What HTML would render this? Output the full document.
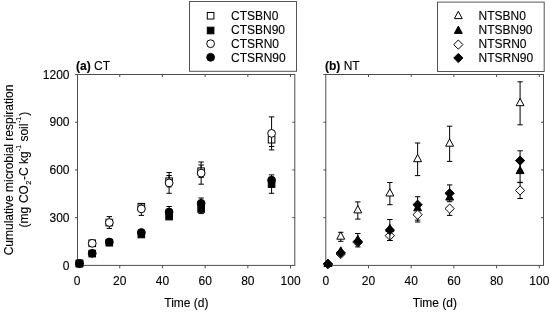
<!DOCTYPE html>
<html lang="en">
<head>
<meta charset="utf-8">
<title>Cumulative microbial respiration</title>
<style>
html,body{margin:0;padding:0;background:#fff;}
body{width:550px;height:312px;overflow:hidden;}
svg{display:block;}
svg text{font-family:"Liberation Sans", Arial, Helvetica, sans-serif;font-size:12px;fill:#000;stroke:#000;stroke-width:0.12px;}
</style>
</head>
<body>
<svg width="550" height="312" viewBox="0 0 550 312">
<rect x="0" y="0" width="550" height="312" fill="#fff"/>
<rect x="77.5" y="74.5" width="217.3" height="190.9" fill="none" stroke="#4d4d4d" stroke-width="1"/>
<path d="M119.75 265.4v3M119.75 74.5v2.5M162.45 265.4v3M162.45 74.5v2.5M205.15 265.4v3M205.15 74.5v2.5M247.85 265.4v3M247.85 74.5v2.5M290.55 265.4v3M290.55 74.5v2.5M77.5 217.67h-2.5M294.8 217.67h-2.5M77.5 169.95h-2.5M294.8 169.95h-2.5M77.5 122.22h-2.5M294.8 122.22h-2.5M77.5 74.5h-2.5" fill="none" stroke="#4d4d4d" stroke-width="1"/>
<text x="77.05" y="285" text-anchor="middle">0</text>
<text x="119.75" y="285" text-anchor="middle">20</text>
<text x="162.45" y="285" text-anchor="middle">40</text>
<text x="205.15" y="285" text-anchor="middle">60</text>
<text x="247.85" y="285" text-anchor="middle">80</text>
<text x="290.55" y="285" text-anchor="middle">100</text>
<text x="69.5" y="269.5" text-anchor="end">0</text>
<text x="69.5" y="221.77" text-anchor="end">300</text>
<text x="69.5" y="174.05" text-anchor="end">600</text>
<text x="69.5" y="126.32" text-anchor="end">900</text>
<text x="69.5" y="78.6" text-anchor="end">1200</text>
<path d="M169.1 175.5V186.9M166.41 175.5h5.4M166.41 186.9h5.4M201.13 165V177.4M198.43 165h5.4M198.43 177.4h5.4M271.58 132.9V146.5M268.88 132.9h5.4M268.88 146.5h5.4" fill="none" stroke="#000" stroke-width="1"/>
<rect x="76.14" y="260.2" width="6.6" height="6.6" fill="#fff" stroke="#000" stroke-width="1"/>
<rect x="88.94" y="240" width="6.6" height="6.6" fill="#fff" stroke="#000" stroke-width="1"/>
<rect x="106.02" y="219.3" width="6.6" height="6.6" fill="#fff" stroke="#000" stroke-width="1"/>
<rect x="138.05" y="203.4" width="6.6" height="6.6" fill="#fff" stroke="#000" stroke-width="1"/>
<rect x="165.8" y="177.9" width="6.6" height="6.6" fill="#fff" stroke="#000" stroke-width="1"/>
<rect x="197.83" y="167.9" width="6.6" height="6.6" fill="#fff" stroke="#000" stroke-width="1"/>
<rect x="268.28" y="136.4" width="6.6" height="6.6" fill="#fff" stroke="#000" stroke-width="1"/>
<path d="M201.13 209V213.6M198.43 213.6h5.4M271.58 174.9V193.3M268.88 174.9h5.4M268.88 193.3h5.4" fill="none" stroke="#000" stroke-width="1"/>
<rect x="76.14" y="260.2" width="6.6" height="6.6" fill="#000" stroke="#000" stroke-width="1"/>
<rect x="88.94" y="250.3" width="6.6" height="6.6" fill="#000" stroke="#000" stroke-width="1"/>
<rect x="106.02" y="239.4" width="6.6" height="6.6" fill="#000" stroke="#000" stroke-width="1"/>
<rect x="138.05" y="231.2" width="6.6" height="6.6" fill="#000" stroke="#000" stroke-width="1"/>
<rect x="165.8" y="213.3" width="6.6" height="6.6" fill="#000" stroke="#000" stroke-width="1"/>
<rect x="197.83" y="205.7" width="6.6" height="6.6" fill="#000" stroke="#000" stroke-width="1"/>
<rect x="268.28" y="180.8" width="6.6" height="6.6" fill="#000" stroke="#000" stroke-width="1"/>
<path d="M109.32 216.6V228.4M106.62 216.6h5.4M106.62 228.4h5.4M141.35 203.9V215.4M138.65 203.9h5.4M138.65 215.4h5.4M169.1 172.5V193.3M166.41 172.5h5.4M166.41 193.3h5.4M201.13 162V184.2M198.43 162h5.4M198.43 184.2h5.4M271.58 116.9V149.9M268.88 116.9h5.4M268.88 149.9h5.4" fill="none" stroke="#000" stroke-width="1"/>
<circle cx="79.44" cy="263.5" r="3.9" fill="#fff" stroke="#000" stroke-width="1"/>
<circle cx="92.24" cy="243.3" r="3.9" fill="#fff" stroke="#000" stroke-width="1"/>
<circle cx="109.32" cy="222.5" r="3.9" fill="#fff" stroke="#000" stroke-width="1"/>
<circle cx="141.35" cy="208.9" r="3.9" fill="#fff" stroke="#000" stroke-width="1"/>
<circle cx="169.1" cy="182.9" r="3.9" fill="#fff" stroke="#000" stroke-width="1"/>
<circle cx="201.13" cy="173.1" r="3.9" fill="#fff" stroke="#000" stroke-width="1"/>
<circle cx="271.58" cy="133.4" r="3.9" fill="#fff" stroke="#000" stroke-width="1"/>
<path d="M169.1 206.5V217.5M166.41 206.5h5.4M166.41 217.5h5.4M201.13 198V208.6M198.43 198h5.4M198.43 208.6h5.4" fill="none" stroke="#000" stroke-width="1"/>
<circle cx="79.44" cy="263.5" r="3.9" fill="#000" stroke="#000" stroke-width="1"/>
<circle cx="92.24" cy="253.3" r="3.9" fill="#000" stroke="#000" stroke-width="1"/>
<circle cx="109.32" cy="242" r="3.9" fill="#000" stroke="#000" stroke-width="1"/>
<circle cx="141.35" cy="232.5" r="3.9" fill="#000" stroke="#000" stroke-width="1"/>
<circle cx="169.1" cy="212" r="3.9" fill="#000" stroke="#000" stroke-width="1"/>
<circle cx="201.13" cy="203.3" r="3.9" fill="#000" stroke="#000" stroke-width="1"/>
<circle cx="271.58" cy="180.2" r="3.9" fill="#000" stroke="#000" stroke-width="1"/>
<rect x="325.8" y="74.5" width="217.7" height="190.9" fill="none" stroke="#4d4d4d" stroke-width="1"/>
<path d="M368.5 265.4v3M368.5 74.5v2.5M411.2 265.4v3M411.2 74.5v2.5M453.9 265.4v3M453.9 74.5v2.5M496.6 265.4v3M496.6 74.5v2.5M539.3 265.4v3M539.3 74.5v2.5M325.8 217.67h-2.5M543.5 217.67h-2.5M325.8 169.95h-2.5M543.5 169.95h-2.5M325.8 122.22h-2.5M543.5 122.22h-2.5M325.8 74.5h-2.5" fill="none" stroke="#4d4d4d" stroke-width="1"/>
<text x="325.8" y="285" text-anchor="middle">0</text>
<text x="368.5" y="285" text-anchor="middle">20</text>
<text x="411.2" y="285" text-anchor="middle">40</text>
<text x="453.9" y="285" text-anchor="middle">60</text>
<text x="496.6" y="285" text-anchor="middle">80</text>
<text x="539.3" y="285" text-anchor="middle">100</text>
<path d="M340.75 232.3V241.3M338.05 232.3h5.4M338.05 241.3h5.4M357.82 201.9V219.1M355.12 201.9h5.4M355.12 219.1h5.4M389.85 182.5V204.7M387.15 182.5h5.4M387.15 204.7h5.4M417.61 143V175.6M414.91 143h5.4M414.91 175.6h5.4M449.63 126.2V161.4M446.93 126.2h5.4M446.93 161.4h5.4M520.09 81.8V124.8M517.38 81.8h5.4M517.38 124.8h5.4" fill="none" stroke="#000" stroke-width="1"/>
<path d="M327.94 259.1L331.88 266.4H323.99Z" fill="#fff" stroke="#000" stroke-width="1"/>
<path d="M340.75 231.9L344.69 239.2H336.8Z" fill="#fff" stroke="#000" stroke-width="1"/>
<path d="M357.82 205.6L361.77 212.9H353.88Z" fill="#fff" stroke="#000" stroke-width="1"/>
<path d="M389.85 188.7L393.8 196H385.9Z" fill="#fff" stroke="#000" stroke-width="1"/>
<path d="M417.61 154.4L421.56 161.7H413.66Z" fill="#fff" stroke="#000" stroke-width="1"/>
<path d="M449.63 138.9L453.58 146.2H445.68Z" fill="#fff" stroke="#000" stroke-width="1"/>
<path d="M520.09 98.4L524.04 105.7H516.13Z" fill="#fff" stroke="#000" stroke-width="1"/>
<path d="M357.82 233.5V246.9M355.12 233.5h5.4M355.12 246.9h5.4M417.61 196.7V220.1M414.91 196.7h5.4M414.91 220.1h5.4M520.09 159.8V182.6M517.38 159.8h5.4M517.38 182.6h5.4" fill="none" stroke="#000" stroke-width="1"/>
<path d="M327.94 259.1L331.88 266.4H323.99Z" fill="#000" stroke="#000" stroke-width="1"/>
<path d="M340.75 246.8L344.69 254.1H336.8Z" fill="#000" stroke="#000" stroke-width="1"/>
<path d="M357.82 235.3L361.77 242.6H353.88Z" fill="#000" stroke="#000" stroke-width="1"/>
<path d="M389.85 224.3L393.8 231.6H385.9Z" fill="#000" stroke="#000" stroke-width="1"/>
<path d="M417.61 203.5L421.56 210.8H413.66Z" fill="#000" stroke="#000" stroke-width="1"/>
<path d="M449.63 192.8L453.58 200.1H445.68Z" fill="#000" stroke="#000" stroke-width="1"/>
<path d="M520.09 166.3L524.04 173.6H516.13Z" fill="#000" stroke="#000" stroke-width="1"/>
<path d="M389.85 230.9V240.5M387.15 230.9h5.4M387.15 240.5h5.4M417.61 207.4V222M414.91 207.4h5.4M414.91 222h5.4M449.63 208.6V215.4M446.93 215.4h5.4M520.09 182.3V198.5M517.38 182.3h5.4M517.38 198.5h5.4" fill="none" stroke="#000" stroke-width="1"/>
<path d="M327.94 259.4L332.54 264L327.94 268.6L323.33 264Z" fill="#fff" stroke="#000" stroke-width="1"/>
<path d="M340.75 249.4L345.35 254L340.75 258.6L336.14 254Z" fill="#fff" stroke="#000" stroke-width="1"/>
<path d="M357.82 237.9L362.43 242.5L357.82 247.1L353.22 242.5Z" fill="#fff" stroke="#000" stroke-width="1"/>
<path d="M389.85 231.1L394.45 235.7L389.85 240.3L385.25 235.7Z" fill="#fff" stroke="#000" stroke-width="1"/>
<path d="M417.61 210.1L422.21 214.7L417.61 219.3L413 214.7Z" fill="#fff" stroke="#000" stroke-width="1"/>
<path d="M449.63 204L454.23 208.6L449.63 213.2L445.03 208.6Z" fill="#fff" stroke="#000" stroke-width="1"/>
<path d="M520.09 185.8L524.69 190.4L520.09 195L515.49 190.4Z" fill="#fff" stroke="#000" stroke-width="1"/>
<path d="M389.85 219.5V240.5M387.15 219.5h5.4M387.15 240.5h5.4M449.63 184.9V201.7M446.93 184.9h5.4M446.93 201.7h5.4M520.09 150.8V170.4M517.38 150.8h5.4M517.38 170.4h5.4" fill="none" stroke="#000" stroke-width="1"/>
<path d="M327.94 259.4L332.54 264L327.94 268.6L323.33 264Z" fill="#000" stroke="#000" stroke-width="1"/>
<path d="M340.75 248.2L345.35 252.8L340.75 257.4L336.14 252.8Z" fill="#000" stroke="#000" stroke-width="1"/>
<path d="M357.82 236.9L362.43 241.5L357.82 246.1L353.22 241.5Z" fill="#000" stroke="#000" stroke-width="1"/>
<path d="M389.85 225.4L394.45 230L389.85 234.6L385.25 230Z" fill="#000" stroke="#000" stroke-width="1"/>
<path d="M417.61 200.1L422.21 204.7L417.61 209.3L413 204.7Z" fill="#000" stroke="#000" stroke-width="1"/>
<path d="M449.63 188.7L454.23 193.3L449.63 197.9L445.03 193.3Z" fill="#000" stroke="#000" stroke-width="1"/>
<path d="M520.09 156L524.69 160.6L520.09 165.2L515.49 160.6Z" fill="#000" stroke="#000" stroke-width="1"/>
<text x="76" y="69.7"><tspan font-weight="bold">(a)</tspan> CT</text>
<text x="325" y="69.7"><tspan font-weight="bold">(b)</tspan> NT</text>
<text x="186.4" y="307.1" text-anchor="middle">Time (d)</text>
<text x="434.9" y="307.1" text-anchor="middle">Time (d)</text>
<text transform="translate(12.8 170) rotate(-90)" text-anchor="middle">Cumulative microbial respiration</text>
<text transform="translate(27.6 227.6) rotate(-90)">(mg <tspan dx="0.5">CO</tspan><tspan font-size="7.5" dy="3.8" dx="0.4">2</tspan><tspan dy="-3.8" dx="0.5">-C kg</tspan><tspan font-size="7" dy="-6.6" dx="0.2">-1</tspan><tspan dy="6.6"> soil</tspan><tspan font-size="7" dy="-6.6" dx="0.5">-1</tspan><tspan dy="6.6" dx="1">)</tspan></text>
<rect x="189.5" y="1.5" width="107" height="69.8" fill="#fff" stroke="#555" stroke-width="1"/>
<rect x="207.3" y="12.45" width="6.6" height="6.6" fill="#fff" stroke="#000" stroke-width="1"/>
<text x="231" y="19.8">CTSBN0</text>
<rect x="207.3" y="27.2" width="6.6" height="6.6" fill="#000" stroke="#000" stroke-width="1"/>
<text x="231" y="34.3">CTSBN90</text>
<circle cx="210.6" cy="43.7" r="3.9" fill="#fff" stroke="#000" stroke-width="1"/>
<text x="231" y="48.2">CTSRN0</text>
<circle cx="210.6" cy="57.3" r="3.9" fill="#000" stroke="#000" stroke-width="1"/>
<text x="231" y="61.75">CTSRN90</text>
<rect x="437.5" y="2.1" width="106.7" height="69.4" fill="#fff" stroke="#555" stroke-width="1"/>
<path d="M458.3 11.3L462.25 18.6H454.35Z" fill="#fff" stroke="#000" stroke-width="1"/>
<text x="478.5" y="19.8">NTSBN0</text>
<path d="M458.3 26.1L462.25 33.4H454.35Z" fill="#000" stroke="#000" stroke-width="1"/>
<text x="478.5" y="34.3">NTSBN90</text>
<path d="M458.3 40L462.9 44.6L458.3 49.2L453.7 44.6Z" fill="#fff" stroke="#000" stroke-width="1"/>
<text x="478.5" y="48.2">NTSRN0</text>
<path d="M458.3 53.4L462.9 58L458.3 62.6L453.7 58Z" fill="#000" stroke="#000" stroke-width="1"/>
<text x="478.5" y="61.75">NTSRN90</text>
</svg>
</body>
</html>
